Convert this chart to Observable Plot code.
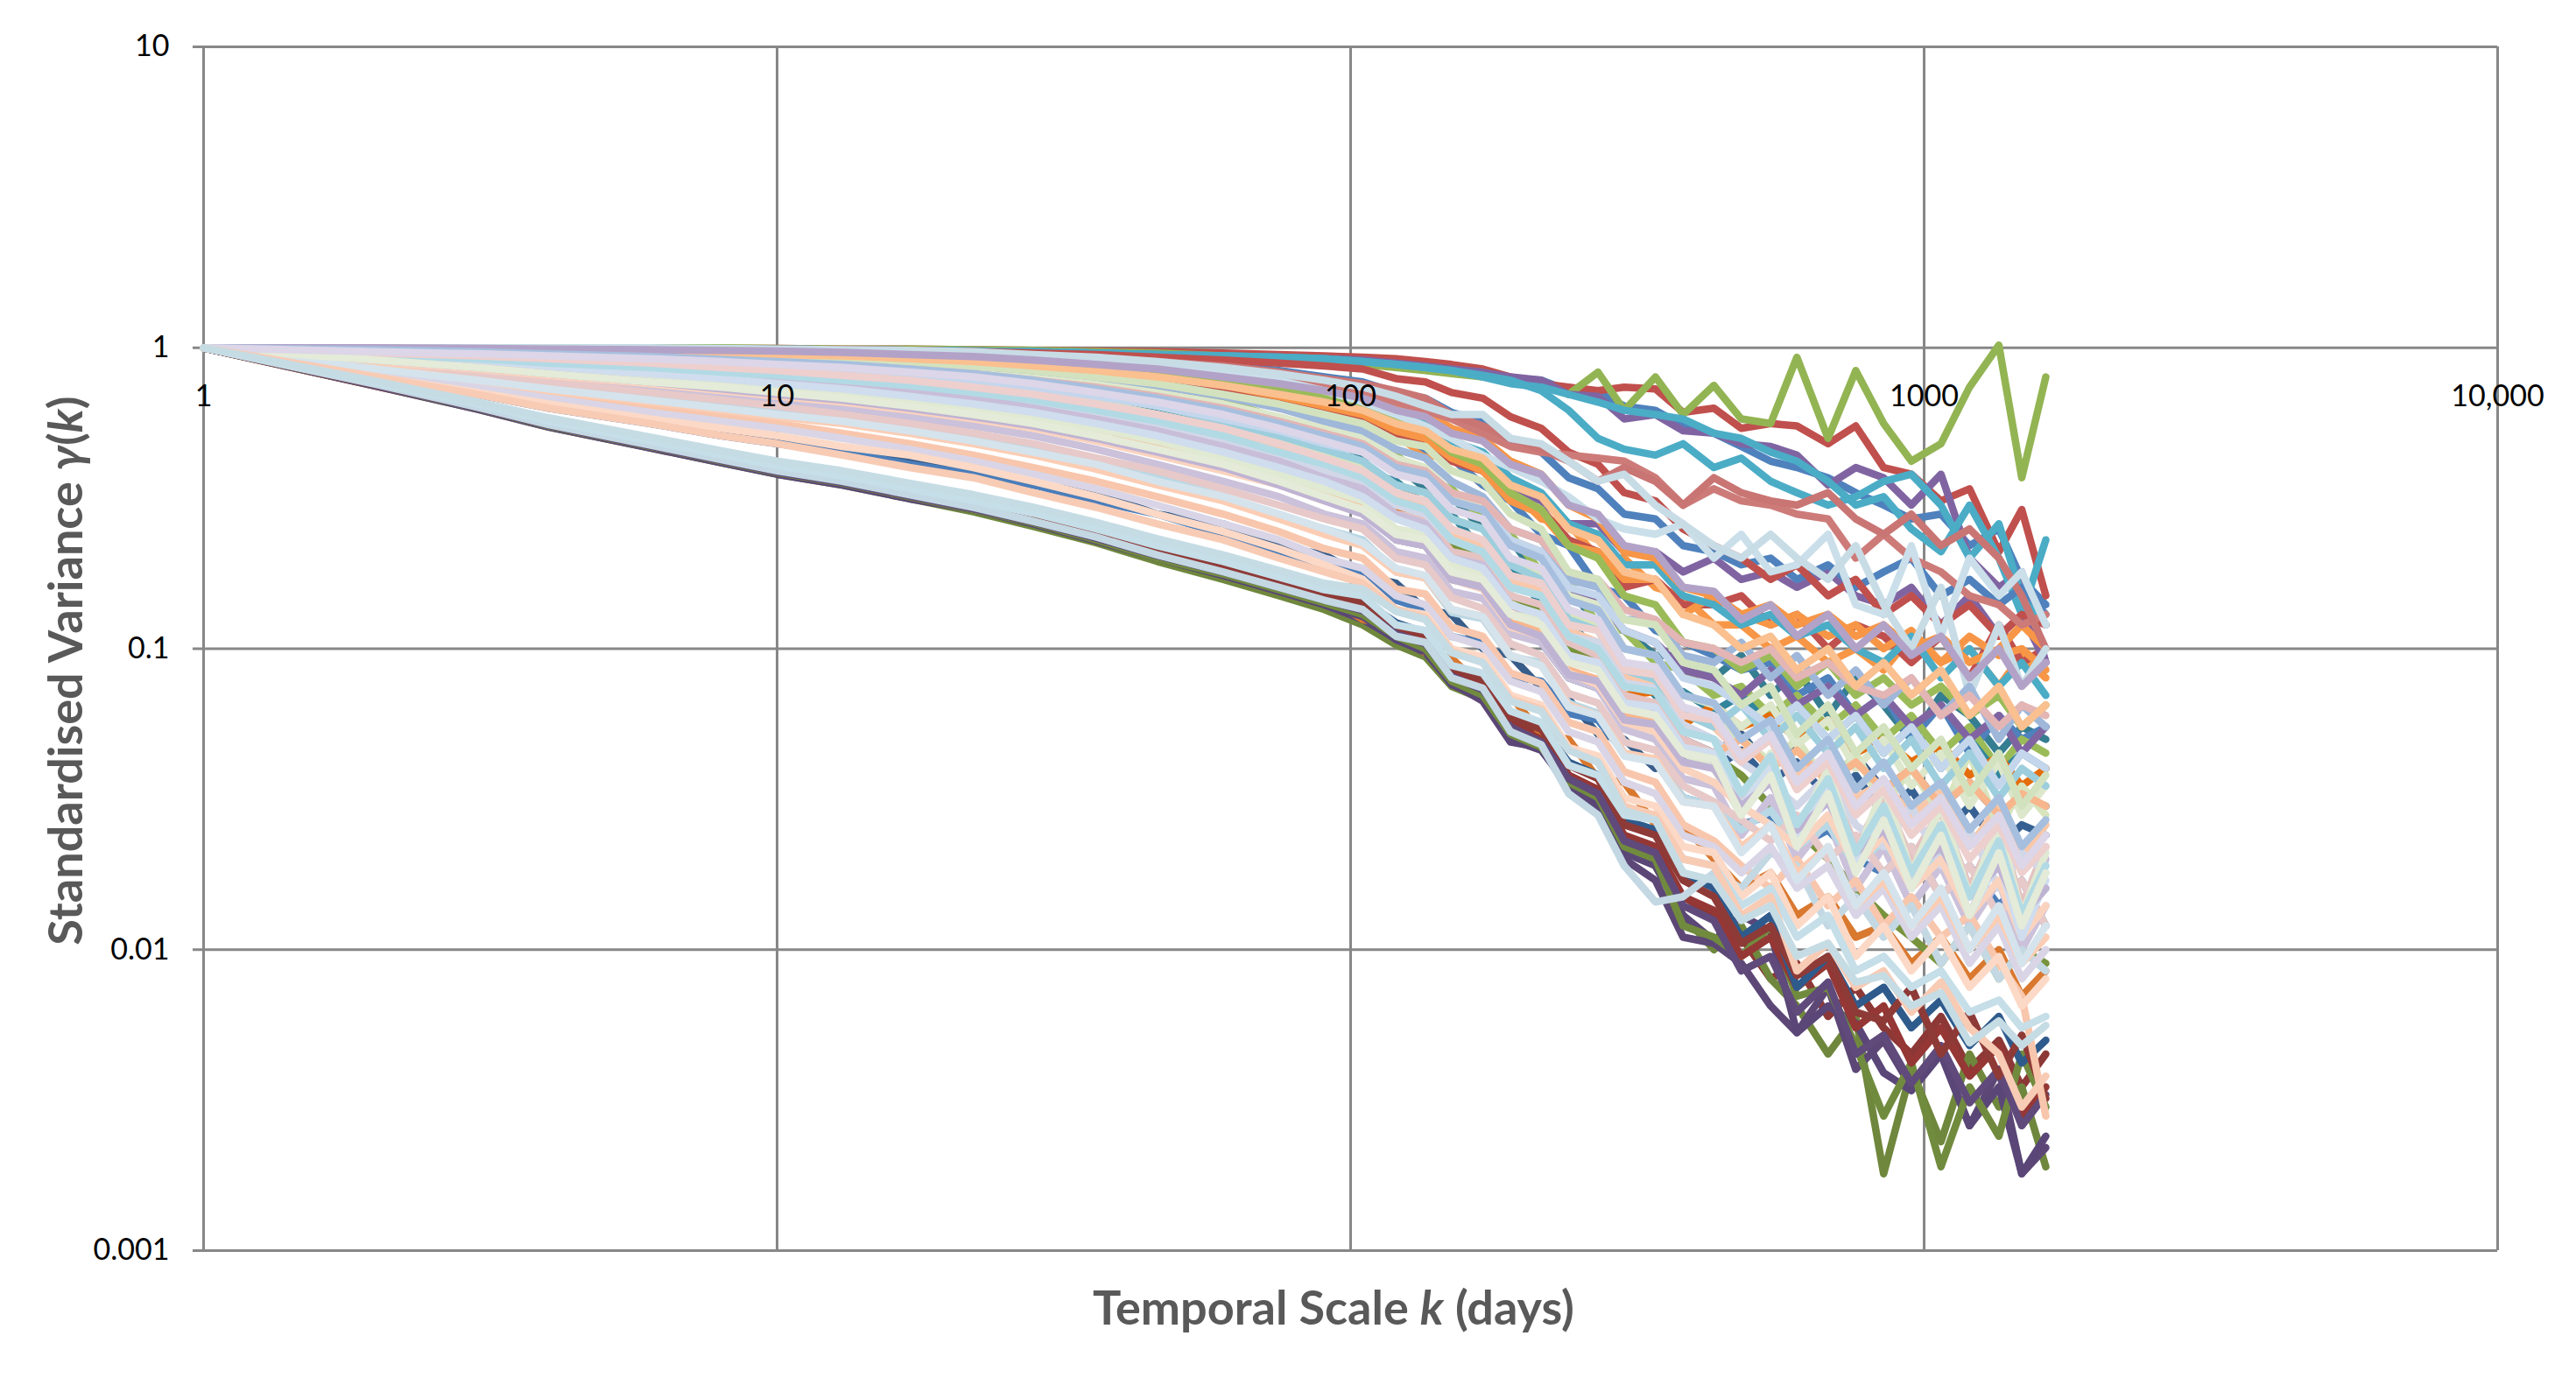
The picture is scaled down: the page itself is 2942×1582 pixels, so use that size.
<!DOCTYPE html>
<html>
<head>
<meta charset="utf-8">
<script src="https://cdn.jsdelivr.net/npm/d3@7"></script>
<script src="https://cdn.jsdelivr.net/npm/@observablehq/plot@0.6"></script>
<style>
html, body { margin: 0; padding: 0; background: #ffffff; }
#chart { width: 2942px; height: 1582px; }
</style>
</head>
<body>
<div id="chart"></div>
<script>
// Temporal scales k (days) shared by all series
const K = [1,2,3,4,6,8,10, 13,17,22,28,36,46,60,75,90, 105,120,135,150,170,190, 215,240,270,300,340,380, 430,480,540,600,680,760, 850,950,1070,1200,1350,1480,1630];

const xTicks = [1, 10, 100, 1000, 10000];
const xTickLabels = ["1", "10", "100", "1000", "10,000"];
const yTicks = [10, 1, 0.1, 0.01, 0.001];
const yTickLabels = ["10", "1", "0.1", "0.01", "0.001"];

// Standardised variance per series
const s01 = [1,1,1,1,0.995,0.99,0.99, 0.985,0.98,0.975,0.97,0.96,0.95,0.94,0.93,0.92, 0.91,0.89,0.88,0.85,0.84,0.79, 0.78,0.72,0.71,0.64,0.62,0.55, 0.52,0.47,0.42,0.4,0.37,0.33, 0.3,0.27,0.28,0.22,0.25,0.17,0.14];
const s02 = [1,1,1,1,1,0.995,0.995, 0.99,0.99,0.985,0.98,0.975,0.97,0.96,0.95,0.94, 0.93,0.92,0.9,0.88,0.85,0.8, 0.76,0.74,0.72,0.74,0.73,0.61, 0.63,0.54,0.56,0.55,0.48,0.55, 0.4,0.38,0.31,0.34,0.21,0.29,0.15];
const s03 = [1,1,1,1,1,1,0.995, 0.99,0.99,0.985,0.98,0.97,0.96,0.94,0.92,0.9, 0.88,0.86,0.84,0.82,0.8,0.78, 0.76,0.7,0.83,0.62,0.8,0.6, 0.75,0.58,0.56,0.93,0.5,0.84, 0.56,0.42,0.48,0.74,1.02,0.37,0.8];
const s04 = [1,1,1,1,0.995,0.99,0.99, 0.985,0.98,0.975,0.97,0.96,0.95,0.94,0.93,0.92, 0.91,0.89,0.87,0.85,0.83,0.8, 0.78,0.7,0.69,0.58,0.6,0.53, 0.52,0.48,0.47,0.44,0.35,0.4, 0.37,0.3,0.38,0.2,0.16,0.18,0.09];
const s05 = [1,1,1,1,0.995,0.99,0.99, 0.985,0.98,0.975,0.97,0.96,0.95,0.94,0.93,0.92, 0.9,0.88,0.86,0.84,0.81,0.78, 0.72,0.62,0.5,0.46,0.44,0.48, 0.4,0.43,0.36,0.33,0.3,0.32, 0.36,0.38,0.3,0.2,0.26,0.15,0.12];
const s06 = [1,0.995,0.99,0.985,0.975,0.965,0.955, 0.94,0.92,0.89,0.85,0.83,0.76,0.71,0.63,0.61, 0.54,0.51,0.44,0.43,0.35,0.34, 0.27,0.26,0.2,0.2,0.16,0.15, 0.12,0.12,0.1,0.11,0.09,0.1, 0.085,0.11,0.09,0.1,0.075,0.095,0.08];
const s07 = [1,0.81,0.71,0.64,0.57,0.52,0.49, 0.46,0.42,0.4,0.35,0.33,0.28,0.26,0.22,0.205, 0.175,0.165,0.135,0.13,0.1,0.095, 0.074,0.068,0.052,0.05,0.04,0.05, 0.045,0.052,0.04,0.048,0.036,0.044, 0.034,0.04,0.03,0.036,0.028,0.032,0.03];
const s08 = [1,0.75,0.63,0.55,0.47,0.42,0.385, 0.355,0.32,0.29,0.262,0.23,0.2,0.177,0.157,0.142, 0.135,0.118,0.108,0.086,0.078,0.058, 0.052,0.038,0.034,0.023,0.021,0.015, 0.013,0.011,0.008,0.009,0.006,0.0075, 0.0055,0.0045,0.006,0.004,0.005,0.0035,0.0045];
const s09 = [1,0.745,0.625,0.545,0.465,0.415,0.38, 0.35,0.315,0.285,0.255,0.225,0.195,0.17,0.15,0.135, 0.12,0.103,0.094,0.075,0.068,0.052, 0.048,0.036,0.031,0.022,0.019,0.013, 0.01,0.012,0.008,0.0065,0.0045,0.006, 0.0018,0.004,0.0023,0.0045,0.003,0.0035,0.0019];
const s10 = [1,0.75,0.63,0.55,0.47,0.42,0.385, 0.355,0.32,0.29,0.26,0.23,0.2,0.175,0.155,0.14, 0.125,0.108,0.097,0.077,0.067,0.049, 0.047,0.034,0.029,0.02,0.017,0.011, 0.0105,0.009,0.0065,0.0053,0.0075,0.004, 0.005,0.0035,0.0045,0.0026,0.004,0.0018,0.0022];
const s11 = [1,0.99,0.98,0.97,0.955,0.94,0.93, 0.91,0.88,0.85,0.8,0.77,0.69,0.64,0.55,0.51, 0.44,0.41,0.34,0.32,0.25,0.23, 0.17,0.16,0.12,0.115,0.095,0.095, 0.08,0.095,0.07,0.085,0.06,0.08, 0.065,0.05,0.07,0.06,0.045,0.055,0.05];
const s12 = [1,0.745,0.63,0.55,0.47,0.42,0.39, 0.36,0.33,0.3,0.265,0.245,0.205,0.19,0.16,0.15, 0.125,0.12,0.097,0.093,0.074,0.07, 0.052,0.05,0.037,0.036,0.026,0.026, 0.02,0.016,0.018,0.013,0.015,0.011, 0.012,0.009,0.011,0.008,0.01,0.007,0.0085];
const s13 = [1,0.995,0.99,0.985,0.975,0.965,0.955, 0.94,0.92,0.9,0.87,0.83,0.78,0.72,0.66,0.61, 0.56,0.53,0.46,0.43,0.35,0.31, 0.24,0.22,0.16,0.15,0.115,0.105, 0.095,0.085,0.09,0.07,0.08,0.06, 0.07,0.05,0.065,0.045,0.06,0.05,0.055];
const s14 = [1,1,0.995,0.99,0.985,0.98,0.975, 0.965,0.95,0.93,0.9,0.86,0.81,0.74,0.68,0.63, 0.59,0.52,0.49,0.42,0.39,0.32, 0.29,0.23,0.21,0.16,0.17,0.14, 0.14,0.15,0.12,0.13,0.1,0.12, 0.11,0.09,0.11,0.08,0.12,0.09,0.1];
const s15 = [1,0.995,0.99,0.98,0.97,0.96,0.95, 0.93,0.91,0.88,0.84,0.79,0.72,0.67,0.58,0.54, 0.47,0.44,0.37,0.34,0.27,0.24, 0.18,0.17,0.12,0.115,0.09,0.085, 0.07,0.075,0.06,0.07,0.055,0.065, 0.05,0.06,0.045,0.055,0.04,0.05,0.045];
const s16 = [1,1,0.995,0.99,0.985,0.98,0.975, 0.97,0.96,0.94,0.92,0.89,0.85,0.8,0.74,0.69, 0.65,0.57,0.53,0.45,0.41,0.34, 0.31,0.26,0.26,0.21,0.21,0.18, 0.2,0.17,0.18,0.16,0.18,0.15, 0.14,0.16,0.12,0.15,0.11,0.13,0.09];
const s17 = [1,1,1,1,0.995,0.99,0.99, 0.985,0.98,0.975,0.97,0.96,0.95,0.94,0.93,0.92, 0.9,0.88,0.86,0.84,0.8,0.76, 0.74,0.7,0.66,0.62,0.6,0.58, 0.52,0.5,0.45,0.42,0.36,0.3, 0.32,0.25,0.21,0.3,0.2,0.13,0.23];
const s18 = [1,1,0.995,0.99,0.98,0.975,0.97, 0.96,0.95,0.93,0.9,0.86,0.81,0.75,0.69,0.64, 0.6,0.53,0.5,0.43,0.39,0.31, 0.28,0.22,0.21,0.17,0.17,0.13, 0.15,0.13,0.12,0.13,0.11,0.12, 0.1,0.115,0.09,0.11,0.095,0.1,0.085];
const s19 = [1,1,0.995,0.99,0.985,0.98,0.975, 0.97,0.96,0.94,0.92,0.89,0.85,0.8,0.75,0.7, 0.66,0.59,0.56,0.49,0.45,0.37, 0.33,0.26,0.24,0.19,0.19,0.15, 0.14,0.12,0.13,0.11,0.12,0.1, 0.09,0.11,0.08,0.1,0.075,0.09,0.07];
const s20 = [1,1,1,0.995,0.99,0.985,0.98, 0.975,0.97,0.96,0.95,0.93,0.91,0.88,0.84,0.8, 0.77,0.71,0.68,0.61,0.57,0.49, 0.45,0.37,0.34,0.28,0.27,0.22, 0.21,0.19,0.2,0.17,0.19,0.16, 0.18,0.2,0.15,0.17,0.14,0.16,0.13];
const s21 = [1,1,0.995,0.99,0.985,0.98,0.975, 0.97,0.96,0.95,0.93,0.9,0.87,0.83,0.78,0.74, 0.71,0.64,0.61,0.54,0.5,0.42, 0.38,0.3,0.27,0.21,0.2,0.16, 0.15,0.13,0.14,0.12,0.13,0.11, 0.12,0.1,0.11,0.09,0.1,0.12,0.1];
const s22 = [1,0.995,0.99,0.985,0.98,0.975,0.97, 0.96,0.95,0.93,0.91,0.88,0.84,0.79,0.74,0.69, 0.65,0.57,0.53,0.45,0.41,0.33, 0.29,0.22,0.2,0.15,0.14,0.105, 0.1,0.085,0.095,0.075,0.09,0.07, 0.08,0.065,0.075,0.06,0.07,0.055,0.065];
const s23 = [1,1,1,1,0.995,0.99,0.99, 0.985,0.98,0.97,0.96,0.95,0.93,0.91,0.89,0.87, 0.85,0.79,0.77,0.71,0.68,0.59, 0.54,0.45,0.41,0.33,0.31,0.25, 0.22,0.2,0.17,0.19,0.15,0.17, 0.13,0.15,0.12,0.14,0.11,0.13,0.12];
const s24 = [1,0.97,0.95,0.93,0.9,0.88,0.86, 0.83,0.8,0.76,0.72,0.67,0.61,0.55,0.49,0.44, 0.39,0.36,0.3,0.28,0.21,0.19, 0.14,0.125,0.095,0.09,0.07,0.072, 0.062,0.07,0.055,0.065,0.05,0.06, 0.045,0.055,0.04,0.05,0.038,0.045,0.04];
const s25 = [1,0.98,0.965,0.95,0.93,0.915,0.9, 0.88,0.85,0.82,0.78,0.74,0.69,0.63,0.57,0.52, 0.48,0.41,0.38,0.32,0.29,0.23, 0.21,0.16,0.145,0.115,0.105,0.085, 0.08,0.07,0.085,0.065,0.075,0.06, 0.07,0.055,0.065,0.05,0.06,0.045,0.055];
const s26 = [1,0.96,0.93,0.9,0.86,0.83,0.81, 0.78,0.74,0.7,0.66,0.61,0.56,0.5,0.44,0.39, 0.36,0.3,0.28,0.22,0.2,0.15, 0.135,0.1,0.09,0.066,0.061,0.047, 0.044,0.038,0.03,0.025,0.02,0.016, 0.013,0.011,0.009,0.012,0.008,0.01,0.009];
const s27 = [1,0.95,0.91,0.88,0.84,0.81,0.78, 0.75,0.71,0.67,0.63,0.58,0.53,0.47,0.42,0.38, 0.35,0.29,0.27,0.21,0.19,0.14, 0.125,0.095,0.09,0.07,0.072,0.056, 0.065,0.055,0.06,0.05,0.058,0.045, 0.05,0.042,0.048,0.038,0.044,0.035,0.04];
const s28 = [1,0.92,0.87,0.83,0.78,0.75,0.72, 0.69,0.65,0.61,0.57,0.52,0.47,0.41,0.36,0.32, 0.29,0.23,0.22,0.17,0.16,0.118, 0.105,0.08,0.074,0.056,0.055,0.043, 0.04,0.046,0.036,0.042,0.032,0.038, 0.028,0.034,0.024,0.03,0.022,0.026,0.024];
const s29 = [1,0.8,0.7,0.63,0.56,0.51,0.48, 0.45,0.41,0.38,0.35,0.31,0.28,0.24,0.21,0.19, 0.175,0.145,0.135,0.11,0.104,0.081, 0.078,0.061,0.058,0.045,0.042,0.032, 0.03,0.026,0.028,0.022,0.025,0.02, 0.018,0.022,0.015,0.019,0.014,0.017,0.012];
const s30 = [1,1,1,0.995,0.99,0.985,0.98, 0.97,0.96,0.95,0.93,0.9,0.87,0.83,0.78,0.74, 0.7,0.66,0.62,0.58,0.52,0.47, 0.45,0.44,0.43,0.42,0.37,0.3, 0.34,0.31,0.3,0.28,0.27,0.2, 0.24,0.2,0.18,0.15,0.14,0.12,0.13];
const s31 = [1,1,1,0.995,0.99,0.985,0.98, 0.975,0.965,0.95,0.94,0.92,0.9,0.87,0.83,0.79, 0.76,0.72,0.68,0.6,0.55,0.5, 0.46,0.42,0.36,0.4,0.36,0.3, 0.37,0.33,0.31,0.3,0.33,0.27, 0.24,0.28,0.22,0.25,0.2,0.15,0.1];
const s32 = [1,1,0.995,0.99,0.985,0.98,0.975, 0.97,0.96,0.94,0.92,0.9,0.87,0.83,0.78,0.72, 0.66,0.6,0.55,0.5,0.44,0.4, 0.36,0.32,0.27,0.25,0.24,0.26, 0.2,0.24,0.18,0.19,0.24,0.14, 0.13,0.22,0.11,0.2,0.15,0.18,0.12];
const s33 = [1,1,1,1,1,0.995,0.99, 0.985,0.98,0.97,0.95,0.93,0.9,0.86,0.82,0.78, 0.74,0.69,0.64,0.6,0.6,0.5, 0.48,0.42,0.36,0.38,0.3,0.26, 0.22,0.2,0.24,0.2,0.17,0.22, 0.14,0.1,0.16,0.07,0.12,0.075,0.1];
const s34 = [1,0.98,0.96,0.94,0.91,0.88,0.86, 0.83,0.79,0.75,0.7,0.65,0.59,0.52,0.46,0.41, 0.38,0.32,0.3,0.24,0.22,0.17, 0.155,0.115,0.105,0.08,0.078,0.062, 0.055,0.045,0.05,0.038,0.044,0.032, 0.036,0.028,0.034,0.022,0.03,0.02,0.026];
const s35 = [1,0.9,0.84,0.8,0.74,0.7,0.67, 0.63,0.59,0.55,0.51,0.46,0.41,0.36,0.32,0.28, 0.26,0.21,0.2,0.155,0.147,0.112, 0.105,0.08,0.074,0.054,0.05,0.037, 0.035,0.024,0.032,0.02,0.027,0.016, 0.022,0.014,0.019,0.012,0.017,0.01,0.014];
const s36 = [1,0.97,0.95,0.93,0.9,0.87,0.85, 0.82,0.79,0.75,0.71,0.66,0.6,0.54,0.49,0.44, 0.41,0.35,0.33,0.27,0.25,0.19, 0.18,0.13,0.12,0.09,0.085,0.064, 0.058,0.05,0.042,0.05,0.035,0.045, 0.03,0.04,0.028,0.045,0.025,0.035,0.028];
const s37 = [1,0.94,0.9,0.87,0.83,0.8,0.77, 0.74,0.7,0.66,0.62,0.57,0.52,0.46,0.41,0.37, 0.34,0.28,0.27,0.21,0.2,0.15, 0.14,0.105,0.095,0.07,0.066,0.05, 0.045,0.032,0.043,0.026,0.037,0.022, 0.032,0.02,0.029,0.016,0.026,0.014,0.022];
const s38 = [1,0.87,0.8,0.75,0.69,0.65,0.62, 0.58,0.54,0.5,0.46,0.41,0.37,0.32,0.28,0.25, 0.23,0.18,0.172,0.132,0.126,0.094, 0.09,0.066,0.061,0.045,0.042,0.032, 0.03,0.025,0.029,0.022,0.026,0.019, 0.023,0.017,0.021,0.015,0.019,0.013,0.016];
const s39 = [1,0.96,0.93,0.9,0.86,0.83,0.81, 0.78,0.74,0.7,0.66,0.61,0.55,0.49,0.44,0.39, 0.36,0.3,0.28,0.23,0.21,0.16, 0.15,0.11,0.105,0.077,0.074,0.056, 0.05,0.042,0.036,0.03,0.038,0.026, 0.022,0.03,0.019,0.025,0.016,0.021,0.018];
const s40 = [1,0.84,0.76,0.7,0.63,0.59,0.56, 0.52,0.48,0.44,0.4,0.36,0.32,0.28,0.245,0.215, 0.2,0.158,0.152,0.118,0.11,0.083, 0.077,0.057,0.053,0.039,0.036,0.026, 0.023,0.019,0.016,0.02,0.014,0.017, 0.012,0.015,0.011,0.013,0.009,0.007,0.0028];
const s41 = [1,0.755,0.635,0.555,0.475,0.425,0.39, 0.36,0.325,0.295,0.265,0.235,0.205,0.18,0.16,0.145, 0.135,0.11,0.105,0.08,0.074,0.053, 0.048,0.033,0.028,0.019,0.0144,0.015, 0.018,0.016,0.021,0.019,0.012,0.015, 0.011,0.014,0.009,0.012,0.008,0.01,0.0085];
const s42 = [1,0.99,0.98,0.97,0.95,0.93,0.92, 0.9,0.87,0.84,0.8,0.76,0.71,0.65,0.59,0.54, 0.5,0.43,0.4,0.33,0.3,0.23, 0.21,0.15,0.14,0.1,0.095,0.07, 0.065,0.055,0.065,0.048,0.058,0.04, 0.05,0.035,0.045,0.03,0.042,0.028,0.035];
const s43 = [1,0.95,0.92,0.89,0.85,0.82,0.79, 0.76,0.72,0.68,0.63,0.58,0.53,0.47,0.42,0.37, 0.34,0.28,0.26,0.2,0.19,0.14, 0.125,0.095,0.088,0.066,0.063,0.047, 0.042,0.03,0.04,0.024,0.034,0.019, 0.028,0.016,0.024,0.013,0.022,0.012,0.02];
const s44 = [1,0.88,0.82,0.77,0.71,0.67,0.64, 0.6,0.56,0.52,0.48,0.43,0.39,0.34,0.3,0.27, 0.25,0.2,0.19,0.148,0.136,0.104, 0.095,0.071,0.066,0.049,0.046,0.035, 0.031,0.027,0.023,0.028,0.02,0.024, 0.018,0.022,0.015,0.019,0.013,0.017,0.012];
const s45 = [1,0.92,0.87,0.83,0.78,0.75,0.72, 0.69,0.65,0.61,0.57,0.52,0.47,0.42,0.37,0.33, 0.3,0.24,0.23,0.18,0.17,0.122, 0.115,0.085,0.079,0.061,0.058,0.047, 0.045,0.05,0.04,0.046,0.036,0.042, 0.034,0.04,0.03,0.036,0.028,0.033,0.03];
const s46 = [1,0.99,0.98,0.97,0.96,0.95,0.94, 0.92,0.9,0.87,0.84,0.8,0.75,0.69,0.63,0.57, 0.53,0.46,0.43,0.36,0.32,0.25, 0.23,0.17,0.16,0.125,0.125,0.095, 0.09,0.105,0.08,0.095,0.07,0.085, 0.065,0.08,0.06,0.075,0.05,0.065,0.055];
const s47 = [1,0.98,0.965,0.95,0.93,0.91,0.89, 0.86,0.83,0.79,0.75,0.7,0.64,0.57,0.51,0.46, 0.42,0.35,0.33,0.27,0.25,0.19, 0.17,0.125,0.115,0.085,0.079,0.061, 0.055,0.065,0.05,0.06,0.045,0.055, 0.04,0.05,0.035,0.045,0.032,0.04,0.035];
const s48 = [1,0.82,0.74,0.68,0.61,0.57,0.54, 0.5,0.46,0.42,0.38,0.34,0.3,0.26,0.23,0.2, 0.185,0.15,0.14,0.11,0.102,0.078, 0.072,0.053,0.049,0.036,0.033,0.024, 0.022,0.018,0.022,0.016,0.019,0.013, 0.016,0.011,0.014,0.009,0.012,0.008,0.01];
const s49 = [1,0.93,0.88,0.85,0.8,0.77,0.74, 0.71,0.67,0.63,0.59,0.54,0.49,0.43,0.38,0.34, 0.31,0.25,0.24,0.19,0.18,0.13, 0.125,0.095,0.087,0.064,0.06,0.045, 0.04,0.028,0.045,0.024,0.04,0.02, 0.035,0.018,0.03,0.015,0.026,0.013,0.021];
const s50 = [1,0.9,0.85,0.81,0.76,0.72,0.69, 0.66,0.62,0.58,0.54,0.49,0.44,0.39,0.35,0.31, 0.29,0.23,0.22,0.17,0.158,0.118, 0.11,0.083,0.076,0.057,0.053,0.04, 0.036,0.03,0.026,0.022,0.028,0.019, 0.024,0.016,0.02,0.013,0.017,0.011,0.014];
const s51 = [1,0.97,0.95,0.93,0.9,0.88,0.86, 0.83,0.8,0.77,0.73,0.69,0.64,0.58,0.53,0.48, 0.45,0.39,0.37,0.31,0.29,0.23, 0.21,0.16,0.15,0.115,0.105,0.08, 0.075,0.065,0.055,0.065,0.05,0.06, 0.045,0.055,0.04,0.05,0.035,0.045,0.04];
const s52 = [1,0.98,0.96,0.95,0.93,0.91,0.9, 0.88,0.85,0.82,0.78,0.74,0.69,0.63,0.57,0.52, 0.48,0.41,0.39,0.33,0.31,0.25, 0.23,0.18,0.17,0.135,0.125,0.105, 0.1,0.09,0.1,0.08,0.09,0.075, 0.07,0.08,0.06,0.07,0.055,0.065,0.06];
const s53 = [1,0.86,0.78,0.72,0.66,0.62,0.59, 0.56,0.52,0.48,0.44,0.395,0.35,0.31,0.27,0.24, 0.22,0.18,0.172,0.135,0.128,0.095, 0.088,0.065,0.06,0.045,0.043,0.031, 0.03,0.022,0.026,0.018,0.022,0.014, 0.017,0.012,0.015,0.01,0.013,0.009,0.011];
const s54 = [1,0.93,0.89,0.86,0.82,0.79,0.76, 0.73,0.69,0.65,0.61,0.56,0.51,0.45,0.4,0.36, 0.32,0.27,0.25,0.2,0.185,0.14, 0.13,0.095,0.09,0.066,0.064,0.047, 0.045,0.03,0.04,0.024,0.034,0.019, 0.027,0.016,0.024,0.013,0.02,0.011,0.017];
const s55 = [1,0.91,0.86,0.82,0.77,0.73,0.7, 0.67,0.63,0.59,0.55,0.5,0.45,0.4,0.35,0.31, 0.28,0.23,0.22,0.17,0.16,0.12, 0.11,0.082,0.078,0.058,0.056,0.042, 0.04,0.03,0.036,0.025,0.031,0.021, 0.025,0.018,0.022,0.015,0.019,0.013,0.016];
const s56 = [1,0.99,0.985,0.975,0.965,0.95,0.94, 0.92,0.9,0.87,0.84,0.8,0.76,0.7,0.65,0.6, 0.56,0.49,0.47,0.39,0.36,0.28, 0.25,0.18,0.17,0.125,0.12,0.09, 0.085,0.065,0.075,0.052,0.065,0.045, 0.055,0.04,0.05,0.033,0.045,0.03,0.038];
const s57 = [1,0.95,0.92,0.89,0.86,0.83,0.81, 0.78,0.75,0.71,0.67,0.62,0.57,0.51,0.45,0.41, 0.37,0.31,0.29,0.23,0.21,0.16, 0.15,0.11,0.1,0.075,0.072,0.053, 0.05,0.033,0.044,0.026,0.037,0.021, 0.03,0.018,0.026,0.015,0.023,0.013,0.019];
const s58 = [1,0.96,0.94,0.92,0.89,0.86,0.84, 0.81,0.78,0.74,0.7,0.65,0.6,0.54,0.48,0.43, 0.39,0.33,0.31,0.25,0.23,0.175, 0.165,0.12,0.115,0.085,0.082,0.06, 0.058,0.042,0.05,0.034,0.042,0.028, 0.034,0.024,0.03,0.02,0.026,0.018,0.022];
const s59 = [1,0.995,0.99,0.98,0.97,0.96,0.95, 0.94,0.92,0.9,0.87,0.84,0.8,0.75,0.7,0.66, 0.62,0.56,0.53,0.46,0.43,0.35, 0.32,0.25,0.23,0.18,0.17,0.13, 0.12,0.1,0.11,0.085,0.1,0.075, 0.09,0.07,0.085,0.06,0.075,0.055,0.065];
const s60 = [1,1,0.995,0.99,0.985,0.98,0.975, 0.965,0.95,0.935,0.91,0.88,0.85,0.8,0.76,0.72, 0.68,0.62,0.59,0.52,0.49,0.41, 0.38,0.3,0.28,0.22,0.21,0.16, 0.155,0.125,0.14,0.11,0.13,0.1, 0.12,0.095,0.11,0.08,0.1,0.075,0.09];
const s61 = [1,0.985,0.97,0.955,0.935,0.915,0.9, 0.88,0.85,0.82,0.78,0.73,0.68,0.62,0.56,0.51, 0.47,0.4,0.38,0.31,0.29,0.22, 0.2,0.145,0.135,0.1,0.095,0.07, 0.066,0.05,0.058,0.04,0.05,0.034, 0.042,0.03,0.036,0.025,0.032,0.022,0.027];
const s62 = [1,0.8,0.71,0.65,0.58,0.54,0.51, 0.47,0.44,0.4,0.36,0.32,0.28,0.245,0.215,0.19, 0.17,0.135,0.13,0.1,0.094,0.07, 0.065,0.047,0.044,0.032,0.03,0.022, 0.021,0.015,0.018,0.012,0.015,0.0095, 0.012,0.0085,0.011,0.0075,0.0095,0.0065,0.008];
const s63 = [1,0.85,0.78,0.73,0.67,0.63,0.6, 0.57,0.53,0.49,0.45,0.41,0.36,0.32,0.28,0.25, 0.225,0.185,0.175,0.135,0.128,0.095, 0.088,0.064,0.06,0.044,0.042,0.031, 0.03,0.021,0.026,0.017,0.022,0.014, 0.018,0.012,0.016,0.01,0.014,0.009,0.012];
const s64 = [1,0.91,0.86,0.82,0.77,0.74,0.71, 0.68,0.64,0.6,0.56,0.51,0.46,0.41,0.36,0.32, 0.29,0.24,0.23,0.18,0.17,0.13, 0.12,0.09,0.085,0.063,0.06,0.045, 0.043,0.028,0.038,0.022,0.033,0.018, 0.027,0.016,0.024,0.013,0.021,0.012,0.018];
const s65 = [1,0.97,0.955,0.94,0.92,0.9,0.88, 0.86,0.83,0.8,0.76,0.71,0.66,0.6,0.54,0.49, 0.45,0.38,0.36,0.29,0.27,0.2, 0.185,0.135,0.125,0.09,0.087,0.064, 0.06,0.044,0.052,0.036,0.045,0.03, 0.037,0.026,0.032,0.022,0.028,0.019,0.024];
const s66 = [1,0.765,0.65,0.57,0.49,0.44,0.405, 0.375,0.34,0.31,0.282,0.25,0.22,0.195,0.173,0.157, 0.15,0.12,0.115,0.088,0.083,0.062, 0.057,0.041,0.038,0.028,0.027,0.02, 0.019,0.014,0.016,0.011,0.013,0.0085, 0.0095,0.0075,0.0085,0.0062,0.0068,0.0055,0.006];
const s67 = [1,0.745,0.625,0.545,0.465,0.415,0.38, 0.35,0.315,0.29,0.26,0.228,0.2,0.175,0.156,0.14, 0.128,0.107,0.098,0.076,0.069,0.05, 0.046,0.035,0.03,0.021,0.019,0.013, 0.0107,0.013,0.0115,0.0053,0.0065,0.0057, 0.0039,0.0034,0.0045,0.0026,0.0035,0.0018,0.0024];
const s68 = [1,0.75,0.63,0.55,0.47,0.42,0.385, 0.355,0.32,0.29,0.262,0.23,0.2,0.177,0.157,0.142, 0.13,0.11,0.1,0.078,0.07,0.052, 0.047,0.036,0.032,0.022,0.02,0.012, 0.011,0.0095,0.012,0.007,0.0075,0.0048, 0.0028,0.0042,0.0019,0.0035,0.0024,0.0045,0.003];
const s69 = [1,0.752,0.633,0.553,0.473,0.423,0.388, 0.358,0.323,0.293,0.265,0.234,0.205,0.181,0.161,0.146, 0.137,0.115,0.107,0.083,0.075,0.056, 0.05,0.038,0.034,0.024,0.022,0.015, 0.0135,0.0095,0.011,0.0075,0.009,0.0055, 0.0065,0.0042,0.0055,0.0038,0.0048,0.0028,0.0035];
const s70 = [1,0.76,0.64,0.56,0.48,0.43,0.395, 0.366,0.332,0.302,0.274,0.243,0.214,0.189,0.168,0.152, 0.145,0.122,0.113,0.088,0.08,0.06, 0.055,0.042,0.038,0.027,0.025,0.018, 0.016,0.011,0.013,0.0075,0.0095,0.0065, 0.0075,0.0055,0.0068,0.0048,0.006,0.0042,0.005];
const s71 = [1,0.8,0.7,0.63,0.56,0.51,0.48, 0.44,0.4,0.37,0.33,0.295,0.26,0.23,0.2,0.18, 0.165,0.135,0.127,0.098,0.09,0.068, 0.063,0.046,0.042,0.03,0.028,0.02, 0.019,0.013,0.015,0.0085,0.0105,0.0075, 0.0085,0.0062,0.0078,0.0055,0.0045,0.003,0.0038];
const s72 = [1,0.775,0.66,0.585,0.505,0.455,0.42, 0.39,0.355,0.325,0.295,0.263,0.232,0.205,0.182,0.165, 0.158,0.133,0.125,0.097,0.09,0.067, 0.062,0.046,0.042,0.029,0.027,0.018, 0.017,0.0125,0.014,0.0095,0.0105,0.0078, 0.0082,0.0065,0.0072,0.0049,0.0058,0.0048,0.0056];
const s73 = [1,0.75,0.632,0.552,0.472,0.422,0.387, 0.357,0.322,0.292,0.264,0.233,0.204,0.18,0.16,0.145, 0.134,0.112,0.104,0.081,0.073,0.055, 0.049,0.037,0.033,0.023,0.021,0.014, 0.0125,0.0085,0.0095,0.0062,0.0078,0.0045, 0.0052,0.0036,0.0048,0.0031,0.004,0.0026,0.0033];
const s74 = [1,0.755,0.637,0.557,0.477,0.427,0.392, 0.362,0.328,0.298,0.27,0.239,0.21,0.186,0.165,0.149, 0.143,0.12,0.112,0.087,0.079,0.059, 0.054,0.041,0.037,0.026,0.024,0.017, 0.015,0.0105,0.012,0.0082,0.0095,0.0062, 0.0058,0.0075,0.0045,0.0062,0.0038,0.0052,0.0032];

// Drawing order (later series on top) and matching colours
const seriesValues = [
  s01,s02,s03,s04,s05,s06,s07,s08,s09,s10,s11,s12,
  s67,s68,s69,s70,s73,s74,
  s13,s14,s15,s16,s17,s18,s19,s20,s21,s22,s23,s24,s25,s26,s27,s28,s29,s30,s31,s32,
  s33,s34,s35,s36,s37,s38,s39,s40,s41,s42,s43,s44,s45,s46,s47,s48,s49,s50,s51,s52,
  s53,s54,s55,s56,s57,s58,s59,s60,s61,s62,s63,s64,s65,s66,
  s71,s72
];

const seriesColors = [
  "#4F81BD","#C0504D","#93B453","#8064A2","#4BACC6","#F79646",
  "#385D8A","#8C3836","#6F873C","#5C4776","#357D91","#D9782F",
  "#5A4677","#718B3E","#953735","#2F5A8C","#604A7B","#8E3A37",
  "#4F81BD","#C0504D","#9BBB59","#8064A2","#4BACC6","#F79646",
  "#4BACC6","#4F81BD","#F79646","#9BBB59","#C0504D","#31859C",
  "#8064A2","#77933C","#E46C0A","#376092","#4A7DBA","#CD7B79",
  "#C97574","#CADFEA",
  "#C8DCE6","#F9C8AA","#CBC1DA","#D7E4BD","#E4C3C2","#B9D8E5",
  "#D2D7E8","#F8C6AC","#C3D8E3","#DDE7CB","#C8BED9","#E6C9C8",
  "#F8B68C","#9FB7D9","#9CCEDD","#D9D5E6","#E0E9D2","#FAD3BF",
  "#C4D6EC","#E3B5B4",
  "#FBCDB4","#CFDDEE","#BFB3D3","#D3E2BE","#B2DAE5","#EDCFCE",
  "#FAC090","#B3A2C7","#A7BFDE","#FCD9C6","#D5E3EC","#E4EBD8",
  "#DCD6E8","#C5DEE8",
  "#F8CBB5","#C6DCE4"
];

seriesValues.forEach((v, i) => {
  if (v.length !== K.length) throw new Error("series at position " + (i + 1) + " has " + v.length + " values");
});
if (seriesColors.length !== seriesValues.length) throw new Error("colors " + seriesColors.length + " vs " + seriesValues.length);

const gridColor = "#878787";

const lineMarks = seriesValues.map((vals, i) =>
  Plot.line(K.map((k, j) => ({k, v: vals[j]})), {
    x: "k", y: "v", stroke: seriesColors[i], strokeWidth: 8.5,
    strokeLinejoin: "round", strokeLinecap: "round"
  })
);

const chart = Plot.plot({
  width: 2942,
  height: 1582,
  marginLeft: 232,
  marginRight: 90,
  marginTop: 53,
  marginBottom: 154,
  style: {fontFamily: "Lato, 'Open Sans', sans-serif", background: "#ffffff", overflow: "visible"},
  x: {type: "log", domain: [1, 10000], axis: null},
  y: {type: "log", domain: [0.001, 10]},
  marks: [
    Plot.gridX(xTicks, {stroke: gridColor, strokeOpacity: 1, strokeWidth: 3}),
    Plot.gridY(yTicks, {stroke: gridColor, strokeOpacity: 1, strokeWidth: 3}),
    Plot.axisY(yTicks, {
      tickSize: 12, tickPadding: 27, stroke: gridColor, strokeWidth: 3,
      fill: "#000000", fontSize: 34, label: null,
      tickFormat: (d) => yTickLabels[yTicks.indexOf(d)]
    }),
    ...lineMarks,
    Plot.text(xTicks, {
      x: (d) => d, y: () => 1, dy: 56, fontSize: 34, fill: "#000000",
      text: (d) => xTickLabels[xTicks.indexOf(d)]
    })
  ]
});

const svg = d3.select(chart);
const xt = svg.append("text")
  .attr("x", 1523).attr("y", 1513)
  .attr("text-anchor", "middle")
  .attr("font-family", "Lato, 'Open Sans', sans-serif")
  .attr("font-weight", 700).attr("font-size", 54).attr("fill", "#595959");
xt.append("tspan").text("Temporal Scale ");
xt.append("tspan").attr("font-style", "italic").text("k");
xt.append("tspan").text(" (days)");

const yt = svg.append("text")
  .attr("transform", "translate(94,766) rotate(-90)")
  .attr("text-anchor", "middle")
  .attr("font-family", "Lato, 'Open Sans', sans-serif")
  .attr("font-weight", 700).attr("font-size", 54).attr("fill", "#595959");
yt.append("tspan").text("Standardised Variance ");
yt.append("tspan").attr("font-style", "italic").text("γ");
yt.append("tspan").text("(");
yt.append("tspan").attr("font-style", "italic").text("k");
yt.append("tspan").text(")");

document.getElementById("chart").appendChild(chart);
</script>
</body>
</html>
